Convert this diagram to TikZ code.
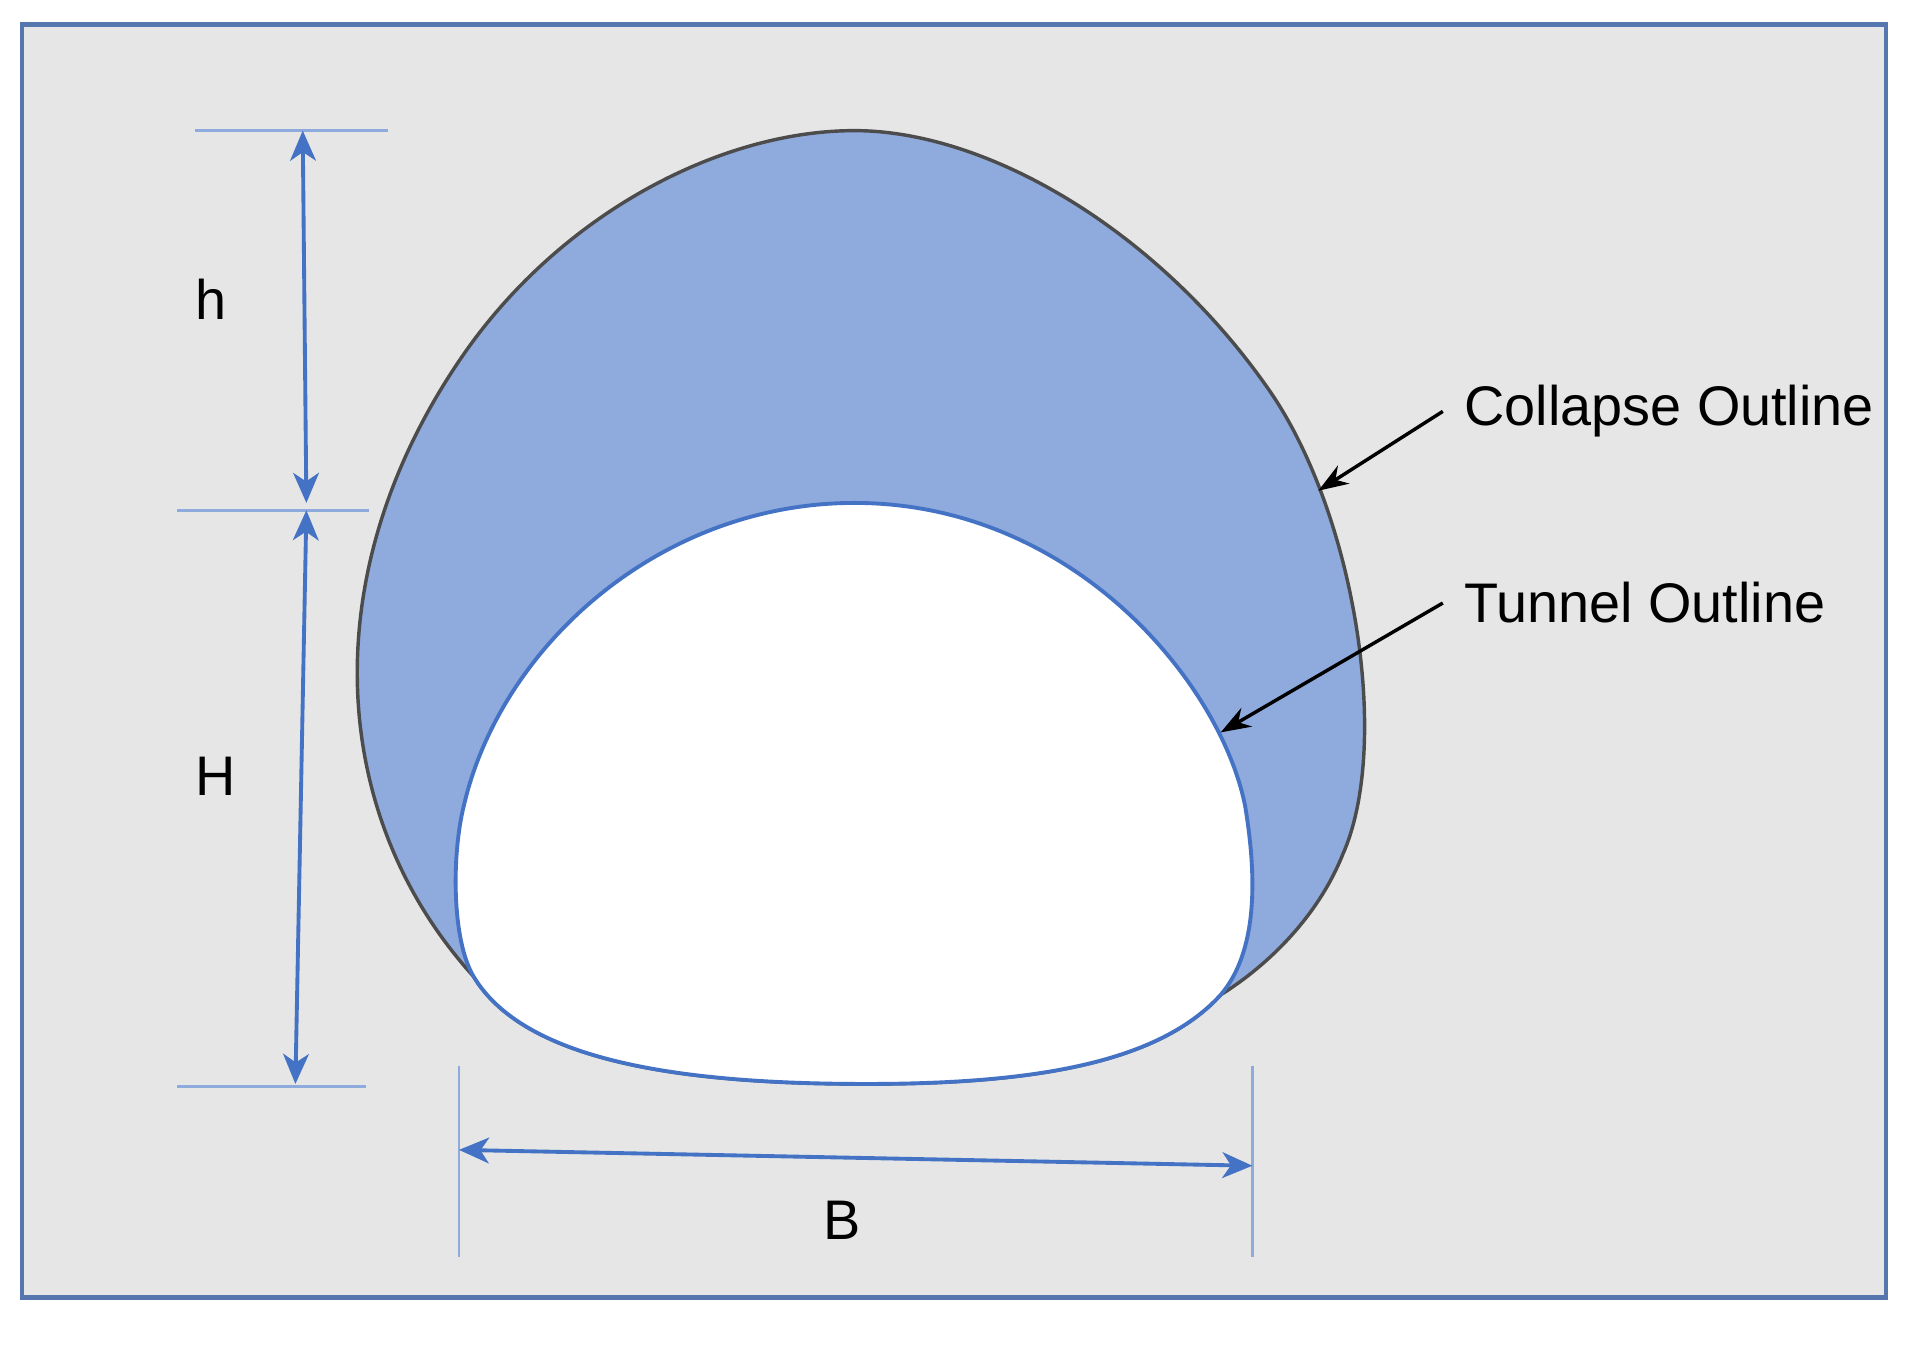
\documentclass[tikz,border=0pt]{standalone}
\usepackage{fontspec}
\setmainfont{Liberation Sans}
\usetikzlibrary{arrows.meta}
\definecolor{bg}{HTML}{E6E6E6}
\definecolor{dimblue}{HTML}{4472C4}
\definecolor{fillblue}{HTML}{8FAADC}
\tikzset{dim/.style={dimblue,line width=0.9pt,{Stealth[length=7pt,width=6pt,inset=2pt]}-{Stealth[length=7pt,width=6pt,inset=2pt]}},
ext/.style={dimblue!60,line width=0.6pt},
callout/.style={black,line width=0.8pt,-{Stealth[length=7pt,width=5pt]}},
lab/.style={font=\fontsize{13}{16}\selectfont}}
\begin{document}
\begin{tikzpicture}[x=0.01cm,y=-0.01cm]
\useasboundingbox (0,0) rectangle (1568,1105);
\draw[fill=bg,draw=dimblue!70!gray,line width=1pt] (18,20) rectangle (1545,1063);
% collapse outline
\draw[fill=fillblue,draw=black!70,line width=0.8pt] (388,800) .. controls (270,670) and (255,470) .. (380,290)
 .. controls (460,175) and (590,107) .. (700,107)
 .. controls (810,107) and (950,190) .. (1040,320)
 .. controls (1110,421) and (1140,610) .. (1100,700)
 .. controls (1080,750) and (1040,790) .. (1000,815)
 .. controls (950,870) and (850,888) .. (710,888)
 .. controls (560,888) and (430,870) .. (388,800) -- cycle;
% tunnel
\draw[fill=white,draw=dimblue,line width=0.9pt] (700,412) .. controls (880,412) and (1000,560) .. (1020,660)
 .. controls (1030,720) and (1030,780) .. (1000,815)
 .. controls (950,870) and (850,888) .. (710,888)
 .. controls (560,888) and (430,870) .. (388,800)
 .. controls (370,770) and (370,700) .. (380,660)
 .. controls (410,530) and (540,412) .. (700,412) -- cycle;
% extension lines
\draw[ext] (160,107) -- (318,107);
\draw[ext] (145,418) -- (302,418);
\draw[ext] (145,890) -- (300,890);
\draw[ext] (376,873) -- (376,1030);
\draw[ext] (1026,873) -- (1026,1030);
\coordinate (h1) at (248,107); \coordinate (h2) at (251,412);
\coordinate (H1) at (251,418); \coordinate (H2) at (242,888);
\coordinate (B1) at (376,942); \coordinate (B2) at (1026,955);
\draw[dim] (h1) -- (h2);
\draw[dim] (H1) -- (H2);
\draw[dim] (B1) -- (B2);
\node[lab] (lh) at (173,245) {h};
\node[lab] (lH) at (177,636) {H};
\node[lab] (lB) at (690,1000) {B};
\node[lab,anchor=west,inner sep=2pt] (co) at (1192,337) {Collapse Outline};
\node[lab,anchor=west,inner sep=2pt] (to) at (1192,494) {Tunnel Outline};
\coordinate (ca) at (1080,402); \coordinate (ta) at (1000,600);
\draw[callout] ([xshift=-0.1cm]co.west) -- (ca);
\draw[callout] ([xshift=-0.1cm]to.west) -- (ta);
\end{tikzpicture}
\end{document}
